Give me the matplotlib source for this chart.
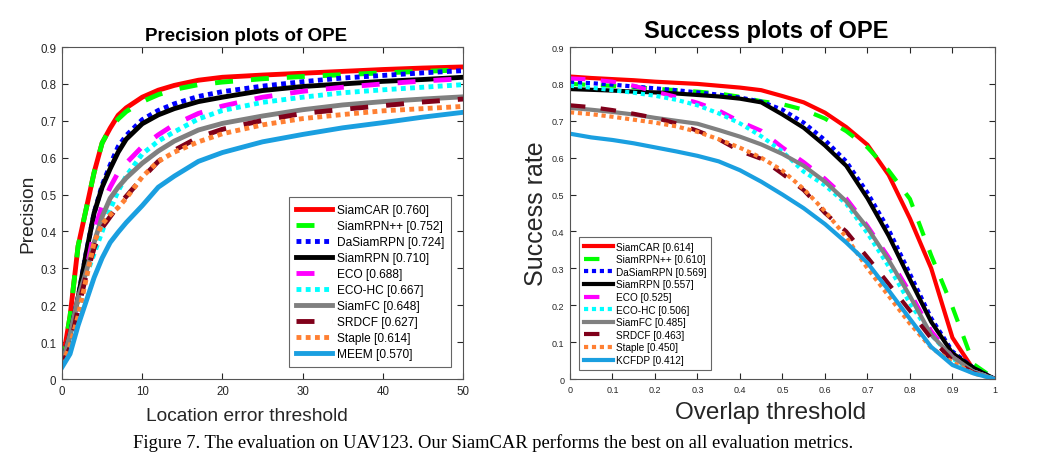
import matplotlib.pyplot as plt

plt.rcParams['font.family'] = ['Liberation Sans', 'DejaVu Sans']

# ---- precision plot data (UAV123) ----
loc_thr = [0, 1, 2, 3, 4, 5, 6, 7, 8, 10, 12, 14, 17, 20, 25, 30, 35, 40, 45, 50]

prec_labels = ['SiamCAR [0.760]', 'SiamRPN++ [0.752]', 'DaSiamRPN [0.724]', 'SiamRPN [0.710]',
               'ECO [0.688]', 'ECO-HC [0.667]', 'SiamFC [0.648]', 'SRDCF [0.627]',
               'Staple [0.614]', 'MEEM [0.570]']

prec_siamcar = [0.04, 0.17, 0.36, 0.46, 0.56, 0.64, 0.68, 0.715, 0.735, 0.764, 0.783, 0.796, 0.810, 0.818, 0.824, 0.829, 0.834, 0.839, 0.843, 0.846]
prec_siamrpnpp = [0.04, 0.17, 0.36, 0.46, 0.56, 0.64, 0.68, 0.705, 0.725, 0.752, 0.771, 0.785, 0.798, 0.805, 0.814, 0.820, 0.825, 0.830, 0.834, 0.838]
prec_dasiamrpn = [0.04, 0.12, 0.22, 0.34, 0.45, 0.525, 0.58, 0.63, 0.66, 0.703, 0.728, 0.746, 0.766, 0.779, 0.794, 0.806, 0.816, 0.823, 0.830, 0.836]
prec_siamrpn = [0.04, 0.12, 0.22, 0.34, 0.45, 0.52, 0.57, 0.615, 0.65, 0.692, 0.716, 0.733, 0.752, 0.764, 0.782, 0.793, 0.800, 0.807, 0.812, 0.818]
prec_eco = [0.04, 0.10, 0.19, 0.29, 0.40, 0.47, 0.52, 0.56, 0.585, 0.63, 0.662, 0.69, 0.72, 0.74, 0.764, 0.78, 0.791, 0.80, 0.808, 0.814]
prec_ecohc = [0.04, 0.09, 0.18, 0.28, 0.34, 0.40, 0.46, 0.51, 0.55, 0.61, 0.645, 0.67, 0.705, 0.728, 0.75, 0.764, 0.776, 0.784, 0.791, 0.798]
prec_siamfc = [0.04, 0.12, 0.22, 0.29, 0.37, 0.44, 0.49, 0.52, 0.545, 0.585, 0.618, 0.645, 0.675, 0.693, 0.713, 0.73, 0.743, 0.752, 0.759, 0.765]
prec_srdcf = [0.04, 0.085, 0.19, 0.28, 0.355, 0.41, 0.44, 0.47, 0.495, 0.545, 0.59, 0.62, 0.655, 0.677, 0.701, 0.72, 0.731, 0.741, 0.751, 0.759]
prec_staple = [0.04, 0.09, 0.17, 0.27, 0.37, 0.42, 0.445, 0.465, 0.49, 0.548, 0.59, 0.615, 0.643, 0.665, 0.689, 0.706, 0.717, 0.727, 0.733, 0.739]
prec_meem = [0.032, 0.068, 0.145, 0.21, 0.275, 0.328, 0.37, 0.398, 0.424, 0.47, 0.52, 0.55, 0.59, 0.614, 0.643, 0.663, 0.681, 0.695, 0.71, 0.723]

# ---- success plot data (UAV123) ----
ovl_thr = [0, 0.05, 0.1, 0.15, 0.2, 0.25, 0.3, 0.35, 0.4, 0.45, 0.5,
           0.55, 0.6, 0.65, 0.7, 0.75, 0.8, 0.85, 0.9, 0.95, 1.0]

succ_labels = ['SiamCAR [0.614]', 'SiamRPN++ [0.610]', 'DaSiamRPN [0.569]', 'SiamRPN [0.557]',
               'ECO [0.525]', 'ECO-HC [0.506]', 'SiamFC [0.485]', 'SRDCF [0.463]',
               'Staple [0.450]', 'KCFDP [0.412]']

succ_siamcar = [0.82, 0.816, 0.813, 0.81, 0.806, 0.803, 0.80, 0.795, 0.79, 0.783, 0.767, 0.75, 0.722, 0.683, 0.635, 0.553, 0.435, 0.30, 0.112, 0.025, 0.0]
succ_siamrpnpp = [0.80, 0.797, 0.795, 0.791, 0.787, 0.783, 0.779, 0.774, 0.765, 0.753, 0.745, 0.73, 0.706, 0.672, 0.628, 0.565, 0.488, 0.335, 0.195, 0.04, 0.0]
succ_dasiamrpn = [0.805, 0.802, 0.798, 0.793, 0.788, 0.783, 0.777, 0.771, 0.763, 0.752, 0.73, 0.695, 0.648, 0.59, 0.505, 0.405, 0.285, 0.165, 0.075, 0.03, 0.0]
succ_siamrpn = [0.786, 0.784, 0.782, 0.779, 0.777, 0.774, 0.77, 0.766, 0.76, 0.75, 0.717, 0.681, 0.633, 0.578, 0.49, 0.388, 0.27, 0.155, 0.07, 0.03, 0.0]
succ_eco = [0.815, 0.812, 0.806, 0.795, 0.779, 0.765, 0.749, 0.728, 0.698, 0.673, 0.628, 0.588, 0.543, 0.49, 0.415, 0.33, 0.235, 0.13, 0.06, 0.02, 0.0]
succ_ecohc = [0.795, 0.79, 0.783, 0.776, 0.768, 0.757, 0.742, 0.72, 0.693, 0.658, 0.617, 0.562, 0.525, 0.475, 0.395, 0.305, 0.205, 0.12, 0.055, 0.02, 0.0]
succ_siamfc = [0.735, 0.73, 0.724, 0.717, 0.708, 0.70, 0.692, 0.675, 0.657, 0.636, 0.61, 0.578, 0.535, 0.482, 0.41, 0.322, 0.225, 0.12, 0.06, 0.02, 0.0]
succ_srdcf = [0.742, 0.737, 0.729, 0.719, 0.708, 0.693, 0.673, 0.65, 0.618, 0.597, 0.556, 0.512, 0.45, 0.40, 0.33, 0.258, 0.185, 0.11, 0.05, 0.017, 0.0]
succ_staple = [0.723, 0.718, 0.711, 0.703, 0.695, 0.685, 0.67, 0.65, 0.627, 0.60, 0.565, 0.515, 0.455, 0.385, 0.30, 0.225, 0.15, 0.085, 0.045, 0.015, 0.0]
succ_kcfdp = [0.665, 0.655, 0.648, 0.639, 0.628, 0.617, 0.605, 0.59, 0.566, 0.535, 0.50, 0.463, 0.42, 0.37, 0.315, 0.24, 0.163, 0.087, 0.038, 0.015, 0.0]

prec_curves = [prec_siamcar, prec_siamrpnpp, prec_dasiamrpn, prec_siamrpn, prec_eco,
               prec_ecohc, prec_siamfc, prec_srdcf, prec_staple, prec_meem]
succ_curves = [succ_siamcar, succ_siamrpnpp, succ_dasiamrpn, succ_siamrpn, succ_eco,
               succ_ecohc, succ_siamfc, succ_srdcf, succ_staple, succ_kcfdp]

# line styles, same order for both plots
dash = (0, (3.7, 3.7))
dot = (0, (1, 0.9))
colors = ['#ff0000', '#00ff00', '#0000ff', '#000000', '#ff00ff',
          '#00ffff', '#808080', '#80001a', '#ff8033', '#1a9fe0']
styles = ['-', dash, dot, '-', dash, dot, '-', dash, dot, '-']

fig = plt.figure(figsize=(10.39, 4.64), dpi=100)
ax1 = fig.add_axes([0.0597, 0.181, 0.386, 0.7155])
ax2 = fig.add_axes([0.5486, 0.181, 0.409, 0.7155])

axis_col = '#262626'
ticks_y = [0, 0.1, 0.2, 0.3, 0.4, 0.5, 0.6, 0.7, 0.8, 0.9]
ticks_y_lab = ['0', '0.1', '0.2', '0.3', '0.4', '0.5', '0.6', '0.7', '0.8', '0.9']

# precision plot
for y, lab, c, ls in zip(prec_curves, prec_labels, colors, styles):
    ax1.plot(loc_thr, y, color=c, linestyle=ls, linewidth=3.5, label=lab)
ax1.set_xlim(0, 50)
ax1.set_ylim(0, 0.9)
ax1.set_xticks([0, 10, 20, 30, 40, 50])
ax1.set_yticks(ticks_y)
ax1.set_yticklabels(ticks_y_lab)
ax1.tick_params(direction='in', top=True, right=True, length=4, width=0.8,
                labelsize=8.3, colors=axis_col, pad=4)
ax1.set_title('Precision plots of OPE', fontsize=13.5, fontweight='bold', pad=5, x=0.459)
ax1.set_xlabel('Location error threshold', fontsize=13.8, color=axis_col, labelpad=2)
ax1.xaxis.set_label_coords(0.46, -0.085)
ax1.set_ylabel('Precision', fontsize=13.8, color=axis_col, labelpad=3)
leg1 = ax1.legend(loc='lower right', bbox_to_anchor=(0.970, 0.036), borderaxespad=0,
                  fontsize=8.6, handlelength=3.0, handletextpad=0.35, labelspacing=0.33,
                  fancybox=False, framealpha=1, edgecolor='#666666', borderpad=0.6)
leg1.get_frame().set_linewidth(0.8)

# success plot
for y, lab, c, ls in zip(succ_curves, succ_labels, colors, styles):
    ax2.plot(ovl_thr, y, color=c, linestyle=ls, linewidth=3, label=lab)
ax2.set_xlim(0, 1)
ax2.set_ylim(0, 0.9)
ax2.set_xticks([0, 0.1, 0.2, 0.3, 0.4, 0.5, 0.6, 0.7, 0.8, 0.9, 1])
ax2.set_xticklabels(['0', '0.1', '0.2', '0.3', '0.4', '0.5', '0.6', '0.7', '0.8', '0.9', '1'])
ax2.set_yticks(ticks_y)
ax2.set_yticklabels(ticks_y_lab)
ax2.tick_params(direction='in', top=True, right=True, length=4, width=0.8,
                labelsize=6.5, colors=axis_col, pad=4)
ax2.set_title('Success plots of OPE', fontsize=17, fontweight='bold', pad=7, x=0.461)
ax2.set_xlabel('Overlap threshold', fontsize=17.5, color=axis_col, labelpad=1)
ax2.xaxis.set_label_coords(0.471, -0.065)
ax2.set_ylabel('Success rate', fontsize=18, color=axis_col, labelpad=3)
leg2 = ax2.legend(loc='lower left', bbox_to_anchor=(0.021, 0.027), borderaxespad=0,
                  fontsize=7.2, handlelength=2.9, handletextpad=0.3, labelspacing=0.26,
                  fancybox=False, framealpha=1, edgecolor='#666666', borderpad=0.5)
leg2.get_frame().set_linewidth(0.8)

for ax in (ax1, ax2):
    for sp in ax.spines.values():
        sp.set_color('#555555')
        sp.set_linewidth(0.8)

fig.text(0.4745, 0.045,
         'Figure 7. The evaluation on UAV123. Our SiamCAR performs the best on all evaluation metrics.',
         ha='center', va='center', fontsize=13.3, family=['Liberation Serif', 'DejaVu Serif'])

fig.savefig('out.png', dpi=100)
